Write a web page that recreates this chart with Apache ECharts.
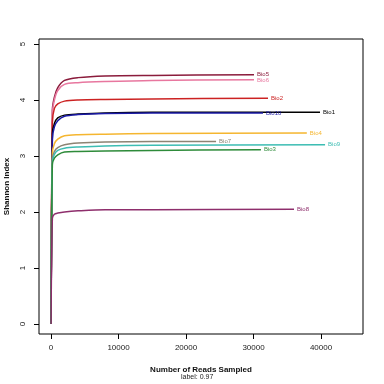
<!DOCTYPE html>
<html>
<head>
<meta charset="utf-8">
<script src="https://cdn.jsdelivr.net/npm/echarts@6/dist/echarts.min.js"></script>
<style>html,body{margin:0;padding:0;background:#fff}#c{width:384px;height:384px}</style>
</head>
<body>
<div id="c"></div>
<script>
// ---- data ----
const seriesNames = ['Bio5','Bio6','Bio2','Bio1','Bio10','Bio4','Bio7','Bio9','Bio3','Bio8'];
const seriesColors = ['#8B1C3C','#E8779F','#CC2222','#000000','#1A1AA6','#F5B630','#8C8474','#3DBDB3','#2E8B3A','#8E2E6C'];
const sampleReads = [10, 200, 500, 1000, 2000, 4000, 8000, 15000];
const endReads = [30070, 30070, 32150, 39850, 31400, 37900, 24450, 40600, 31100, 36000];
const bio5  = [0, 3.82, 4.05, 4.22, 4.35, 4.40, 4.43, 4.44, 4.45];
const bio6  = [0, 3.75, 4.00, 4.17, 4.28, 4.31, 4.33, 4.35, 4.36];
const bio2  = [0, 3.60, 3.85, 3.93, 3.98, 4.00, 4.01, 4.02, 4.03];
const bio1  = [0, 3.40, 3.58, 3.68, 3.73, 3.75, 3.77, 3.78, 3.78];
const bio10 = [0, 3.30, 3.52, 3.63, 3.71, 3.74, 3.76, 3.77, 3.77];
const bio4  = [0, 3.05, 3.22, 3.30, 3.36, 3.38, 3.39, 3.40, 3.41];
const bio7  = [0, 2.95, 3.08, 3.15, 3.20, 3.23, 3.25, 3.26, 3.26];
const bio9  = [0, 2.90, 3.03, 3.10, 3.14, 3.16, 3.18, 3.19, 3.20];
const bio3  = [0, 2.85, 2.96, 3.02, 3.07, 3.08, 3.09, 3.10, 3.11];
const bio8  = [0, 1.89, 1.96, 1.98, 2.00, 2.02, 2.04, 2.04, 2.05];
const seriesValues = [bio5, bio6, bio2, bio1, bio10, bio4, bio7, bio9, bio3, bio8];
const xTicks = [0, 10000, 20000, 30000, 40000];
const yTicks = [0, 1, 2, 3, 4, 5];
const subtitle = 'label: 0.97';

// ---- chart ----
const chart = echarts.init(document.getElementById('c'), null, {renderer: 'canvas'});
const font = 'Liberation Sans, Arial, sans-serif';
const series = seriesNames.map((name, i) => {
  const vals = seriesValues[i];
  const pts = sampleReads.map((x, j) => [x, vals[j]]);
  pts.push([endReads[i], vals[vals.length - 1]]);
  return {
    name: name,
    type: 'line',
    data: pts,
    showSymbol: false,
    smooth: 0.3,
    lineStyle: {color: seriesColors[i], width: 1.5},
    itemStyle: {color: seriesColors[i]},
    endLabel: {show: true, formatter: name, color: seriesColors[i], fontSize: 6, fontFamily: font, distance: 3},
    silent: true,
    animation: false
  };
});
chart.setOption({
  animation: false,
  backgroundColor: '#fff',
  grid: {left: 39, top: 39, right: 21, bottom: 50, show: true, borderColor: '#000', borderWidth: 1,
         backgroundColor: 'transparent', containLabel: false, outerBoundsMode: 'none'},
  xAxis: {
    type: 'value', min: -1780, max: 46220,
    axisLine: {show: false, onZero: false},
    splitLine: {show: false},
    axisTick: {show: true, customValues: xTicks, length: 5, lineStyle: {color: '#000'}},
    axisLabel: {customValues: xTicks, fontSize: 8, color: '#222', fontFamily: font, margin: 10,
                formatter: v => String(v)},
    name: 'Number of Reads Sampled', nameLocation: 'middle', nameGap: 32,
    nameTextStyle: {fontSize: 8, fontWeight: 'bold', color: '#111', fontFamily: font}
  },
  yAxis: {
    type: 'value', min: -0.18, max: 5.09,
    axisLine: {show: false, onZero: false},
    splitLine: {show: false},
    axisTick: {show: true, customValues: yTicks, length: 5, lineStyle: {color: '#000'}},
    axisLabel: {customValues: yTicks, fontSize: 8, color: '#222', fontFamily: font, rotate: 90, margin: 12,
                formatter: v => String(v)},
    name: 'Shannon Index', nameLocation: 'middle', nameGap: 28,
    nameTextStyle: {fontSize: 8, fontWeight: 'bold', color: '#111', fontFamily: font}
  },
  graphic: [{
    type: 'text', left: 181, top: 374,
    style: {text: subtitle, fontSize: 7, fill: '#222', font: '7px ' + font}
  }],
  series: series
});
</script>
</body>
</html>
